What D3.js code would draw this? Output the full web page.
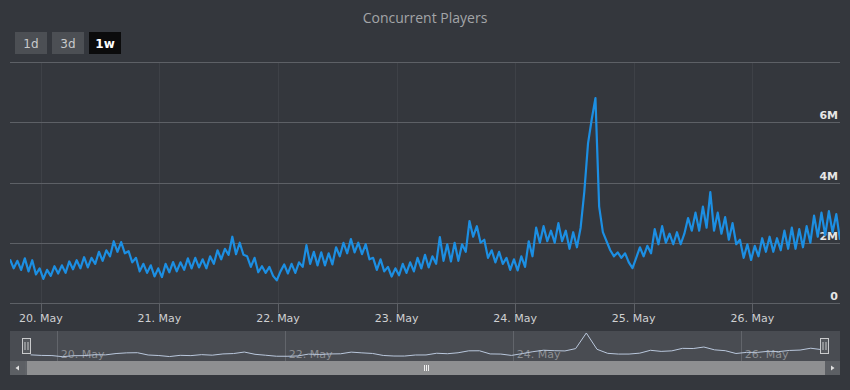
<!DOCTYPE html>
<html><head><meta charset="utf-8">
<script src="https://cdn.jsdelivr.net/npm/d3@7"></script>
<style>
html,body{margin:0;padding:0;background:#34373d;}
svg{display:block;font-family:"DejaVu Sans",Verdana,sans-serif;}
</style></head>
<body>
<svg id="chart" width="850" height="390"></svg>
<script>
// ---- data ----
const chartTitle = "Concurrent Players";
const rangeButtons = ["1d", "3d", "1w"];
const startTime = Date.UTC(2023, 4, 19, 17, 45);   // first sample
const stepMinutes = 45;
// concurrent players (millions), one sample every 45 minutes
const players = [
 1.45,1.15,1.40,1.10,1.48,1.05,1.42,0.95,1.15,0.80,
 1.10,0.90,1.22,0.98,1.25,1.00,1.38,1.12,1.42,1.15,
 1.52,1.18,1.50,1.30,1.70,1.40,1.75,1.55,2.05,1.70,
 2.02,1.65,1.72,1.35,1.50,1.05,1.30,1.00,1.25,0.88,
 1.15,0.86,1.30,1.02,1.36,1.05,1.35,1.10,1.48,1.15,
 1.50,1.18,1.45,1.15,1.55,1.30,1.75,1.45,1.80,1.60,
 2.20,1.62,2.00,1.60,1.55,1.20,1.50,1.02,1.22,1.00,
 1.20,0.90,0.75,1.05,1.28,0.98,1.30,1.00,1.35,1.20,
 1.92,1.30,1.70,1.25,1.68,1.25,1.65,1.28,1.85,1.55,
 2.00,1.65,2.12,1.68,2.00,1.62,1.95,1.45,1.50,1.10,
 1.45,1.05,1.20,0.88,1.15,0.92,1.30,1.00,1.35,1.05,
 1.50,1.15,1.60,1.18,1.55,1.30,2.19,1.40,1.95,1.38,
 2.00,1.40,1.95,1.70,2.72,2.20,2.55,2.00,2.10,1.50,
 1.75,1.35,1.70,1.30,1.50,1.10,1.45,1.08,1.55,1.20,
 2.05,1.55,2.50,2.00,2.55,2.05,2.40,2.00,2.65,2.05,
 2.40,1.80,2.35,1.85,2.50,3.70,5.30,6.10,6.80,3.20,
 2.35,2.05,1.75,1.55,1.68,1.50,1.65,1.35,1.16,1.50,
 1.85,1.55,1.90,1.65,2.45,1.95,2.55,2.00,2.30,1.95,
 2.35,1.95,2.30,2.82,2.40,3.00,2.40,3.20,2.50,3.68,
 2.40,3.00,2.30,2.85,2.10,2.65,1.95,2.10,1.50,1.95,
 1.43,1.90,1.55,2.15,1.70,2.20,1.70,2.15,1.75,2.40,
 1.80,2.50,1.80,2.45,1.85,2.55,2.00,2.90,2.20,3.00,
 2.25,3.05,2.35,2.95,2.10
];
const yTicks = [0, 2e6, 4e6, 6e6, 8e6];
const yTickLabels = ["0", "2M", "4M", "6M", ""];
const navLabelDays = [20, 22, 24, 26];

const data = players.map((v, i) => ({ t: new Date(startTime + i * stepMinutes * 60000), v: v * 1e6 }));

// ---- layout ----
const W = 850, H = 390;
const plot = { left: 10, right: 840, top: 62, bottom: 303 };
const nav = { left: 27, right: 825, top: 331, bottom: 361 };
const svg = d3.select("#chart");
const bg = "#34373d";

const x = d3.scaleUtc().domain([data[0].t, data[data.length - 1].t]).range([plot.left, plot.right]);
const y = d3.scaleLinear().domain([0, 8e6]).range([plot.bottom, plot.top]);

// title
svg.append("text").attr("x", W / 2).attr("y", 23).attr("text-anchor", "middle")
  .attr("fill", "#a3a5a8").style("font-size", "14px").style("font-family", "'Open Sans',sans-serif")
  .text(chartTitle);

// range buttons
const btnG = svg.append("g");
rangeButtons.forEach((b, i) => {
  const bx = 15 + i * 37;
  const sel = i === rangeButtons.length - 1;
  btnG.append("rect").attr("x", bx).attr("y", 32).attr("width", 32).attr("height", 22)
    .attr("fill", sel ? "#0b0b0c" : "#4c4f54");
  btnG.append("text").attr("x", bx + 16).attr("y", 47.5).attr("text-anchor", "middle")
    .attr("fill", sel ? "#ffffff" : "#c8c9cb").style("font-size", "12px")
    .style("font-weight", sel ? "bold" : "normal").text(b);
});

// vertical day grid lines
const days = x.ticks(d3.utcDay.every(1));
svg.append("g").selectAll("line").data(days).join("line")
  .attr("x1", d => Math.round(x(d)) + 0.5).attr("x2", d => Math.round(x(d)) + 0.5)
  .attr("y1", plot.top).attr("y2", plot.bottom)
  .attr("stroke", "#3e4147").attr("stroke-width", 1);
svg.append("g").selectAll("line").data(days).join("line")
  .attr("x1", d => Math.round(x(d)) + 0.5).attr("x2", d => Math.round(x(d)) + 0.5)
  .attr("y1", plot.bottom).attr("y2", plot.bottom + 10)
  .attr("stroke", "#5d6066").attr("stroke-width", 1);

// horizontal grid lines
svg.append("g").selectAll("line").data(yTicks).join("line")
  .attr("x1", plot.left).attr("x2", plot.right)
  .attr("y1", d => Math.round(y(d)) + 0.5).attr("y2", d => Math.round(y(d)) + 0.5)
  .attr("stroke", "#5d6066").attr("stroke-width", 1);

// y labels
svg.append("g").selectAll("text").data(yTicks).join("text")
  .attr("x", 838).attr("y", d => y(d) - 3).attr("text-anchor", "end")
  .attr("fill", "#e6e6e6").attr("stroke", bg).attr("stroke-width", 2).style("paint-order", "stroke")
  .style("font-size", "11px").style("font-weight", "bold")
  .text((d, i) => yTickLabels[i]);

// main line
svg.append("clipPath").attr("id", "clip").append("rect")
  .attr("x", plot.left).attr("y", 0).attr("width", plot.right - plot.left).attr("height", plot.bottom);
svg.append("path").datum(data).attr("clip-path", "url(#clip)")
  .attr("fill", "none").attr("stroke", "#1c8fe3").attr("stroke-width", 2.2).attr("stroke-linejoin", "round")
  .attr("d", d3.line().x(d => x(d.t)).y(d => y(d.v)));

// x-axis labels
const fmt = d3.utcFormat("%-d. %b");
svg.append("g").selectAll("text").data(days).join("text")
  .attr("x", d => x(d)).attr("y", 322).attr("text-anchor", "middle")
  .attr("fill", "#cfd0d2").style("font-size", "11px").text(d => fmt(d));

// ---- navigator ----
// navigator shows grouped (averaged) data, 3 samples per group
const navData = d3.range(0, data.length, 3).map(i => {
  const g = data.slice(i, i + 3);
  return { t: g[Math.floor(g.length / 2)].t, v: d3.mean(g, d => d.v) };
});
const xn = d3.scaleUtc().domain(x.domain()).range([nav.left, nav.right]);
const yn = d3.scaleLinear().domain([0, d3.max(navData, d => d.v)]).range([nav.bottom, nav.top + 2]);
svg.append("rect").attr("x", plot.left).attr("y", nav.top).attr("width", plot.right - plot.left)
  .attr("height", nav.bottom - nav.top).attr("fill", "#494c52");
const navDays = days.filter(d => navLabelDays.includes(d.getUTCDate()));
svg.append("g").selectAll("line").data(navDays).join("line")
  .attr("x1", d => Math.round(xn(d)) + 0.5).attr("x2", d => Math.round(xn(d)) + 0.5)
  .attr("y1", nav.top).attr("y2", nav.bottom + 14).attr("stroke", "#62656b");
svg.append("g").selectAll("text").data(navDays).join("text")
  .attr("x", d => xn(d) + 4).attr("y", 358).attr("fill", "#8d8f93")
  .style("font-size", "11px").text(d => fmt(d));
svg.append("path").datum(navData)
  .attr("fill", "none").attr("stroke", "#b9c7dc").attr("stroke-width", 1)
  .attr("d", d3.line().x(d => xn(d.t)).y(d => yn(d.v)));

// handles
[nav.left, nav.right].forEach(hx => {
  svg.append("rect").attr("x", hx - 4.5).attr("y", 338.5).attr("width", 8).attr("height", 15)
    .attr("fill", "#55585d").attr("stroke", "#c9cacc");
  [-1.5, 1.5].forEach(o => svg.append("line").attr("x1", hx + o - 0.5).attr("x2", hx + o - 0.5)
    .attr("y1", 342).attr("y2", 350).attr("stroke", "#c9cacc"));
});

// scrollbar
svg.append("rect").attr("x", plot.left).attr("y", nav.bottom).attr("width", plot.right - plot.left)
  .attr("height", 14).attr("fill", "#606368");
svg.append("rect").attr("x", nav.left).attr("y", nav.bottom).attr("width", nav.right - nav.left)
  .attr("height", 14).attr("fill", "#8e8f91");
[[plot.left, "#5c5f64", -1], [nav.right, "#5c5f64", 1]].forEach(([bx, c, dir]) => {
  svg.append("rect").attr("x", bx).attr("y", nav.bottom).attr("width", 15).attr("height", 14).attr("fill", c);
  const cx = bx + 7.5, cy = nav.bottom + 7;
  svg.append("path").attr("fill", "#e0e0e0")
    .attr("d", `M${cx + dir * 2},${cy} L${cx - dir * 1.5},${cy - 2.5} L${cx - dir * 1.5},${cy + 2.5} Z`);
});
const gx = (nav.left + nav.right) / 2;
[-2, 0, 2].forEach(o => svg.append("line").attr("x1", gx + o + 0.5).attr("x2", gx + o + 0.5)
  .attr("y1", nav.bottom + 4).attr("y2", nav.bottom + 10).attr("stroke", "#f0f0f0"));
</script>
</body></html>
